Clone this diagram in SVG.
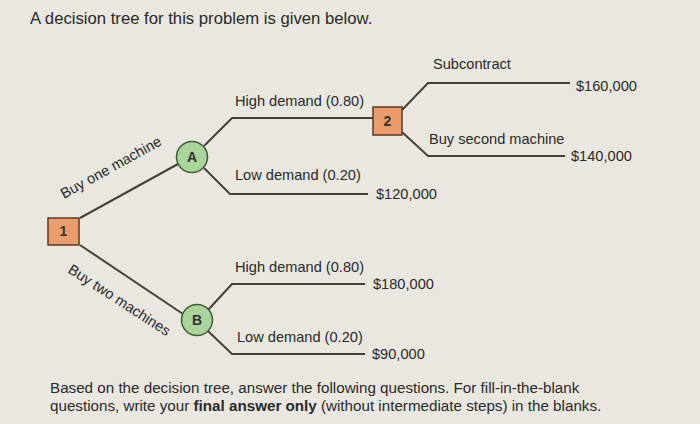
<svg xmlns="http://www.w3.org/2000/svg" width="700" height="424" viewBox="0 0 700 424">
<style>
text{font-family:"Liberation Sans",Arial,sans-serif;fill:#2a2a2a}
.l{font-size:14.6px}
.e{stroke:#4a3f38;stroke-width:2;fill:none}
.sq{fill:#ec9c6a;stroke:#5a3a2a;stroke-width:1.5}
.ci{fill:#a9d59a;stroke:#3e5a38;stroke-width:1.5}
.n{font-size:14px;font-weight:bold;text-anchor:middle;fill:#333}
</style>
<rect width="700" height="424" fill="#e9e7e0"/>
<text x="30" y="24" font-size="16.7">A decision tree for this problem is given below.</text>
<g id="connectors">
<path class="e" d="M80 218 L178 164"/>
<path class="e" d="M80 245 L183 314"/>
<path class="e" d="M204 146 L232 118 L373 118"/>
<path class="e" d="M204 168 L230 194 L368 194"/>
<path class="e" d="M208 310 L232 284 L365 284"/>
<path class="e" d="M208 331 L232 354 L365 354"/>
<path class="e" d="M402 110 L428 83 L570 83"/>
<path class="e" d="M402 132 L428 156 L565 156"/>
</g>
<g id="node1"><rect class="sq" x="48" y="218" width="31" height="27"/><text class="n" x="63.5" y="236">1</text></g>
<g id="nodeA"><circle class="ci" cx="192" cy="157" r="15.5"/><text class="n" x="192" y="162">A</text></g>
<g id="nodeB"><circle class="ci" cx="197" cy="320" r="15.5"/><text class="n" x="197" y="325">B</text></g>
<g id="node2"><rect class="sq" x="373" y="107" width="29" height="28"/><text class="n" x="387.5" y="126">2</text></g>
<g id="labels">
<text class="l" transform="translate(64,199) rotate(-29)">Buy one machine</text>
<text class="l" transform="translate(67,272) rotate(33)">Buy two machines</text>
<text class="l" x="235" y="106">High demand (0.80)</text>
<text class="l" x="235" y="180">Low demand (0.20)</text>
<text class="l" x="235" y="272">High demand (0.80)</text>
<text class="l" x="237" y="342">Low demand (0.20)</text>
<text class="l" x="433" y="69">Subcontract</text>
<text class="l" x="429" y="144">Buy second machine</text>
<text class="l" x="576" y="91">$160,000</text>
<text class="l" x="571" y="161">$140,000</text>
<text class="l" x="376" y="199">$120,000</text>
<text class="l" x="373" y="289">$180,000</text>
<text class="l" x="372" y="359">$90,000</text>
</g>
<text x="50" y="393" font-size="15.2">Based on the decision tree, answer the following questions. For fill-in-the-blank</text>
<text x="50" y="411" font-size="15.2">questions, write your <tspan font-weight="bold">final answer only</tspan> (without intermediate steps) in the blanks.</text>
</svg>
